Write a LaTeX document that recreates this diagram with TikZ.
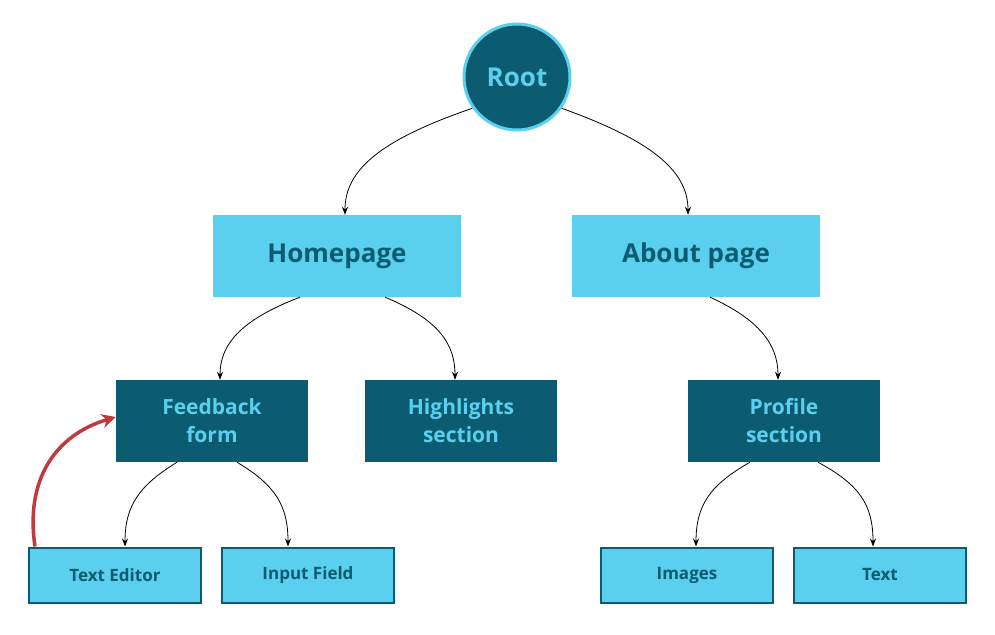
\documentclass[tikz,border=0pt]{standalone}
\usepackage{fontspec}
\setmainfont{Open Sans}
\usetikzlibrary{arrows.meta}
\definecolor{dk}{HTML}{0B5C70}
\definecolor{lt}{HTML}{5BCFEE}
\definecolor{rd}{HTML}{C0393B}
\begin{document}
\begin{tikzpicture}[x=1pt,y=-1pt,
 big/.style={fill=lt,minimum width=248pt,minimum height=82pt,text=dk,font=\fontsize{26}{30}\selectfont\bfseries},
 mid/.style={fill=dk,minimum width=192pt,minimum height=82pt,text=lt,align=center,font=\fontsize{21}{28}\selectfont\bfseries},
 small/.style={fill=lt,draw=dk,line width=2pt,minimum width=172pt,minimum height=55pt,text=dk,font=\fontsize{17}{20}\selectfont\bfseries},
 con/.style={-{Stealth[length=8pt,width=6pt]},line width=0.8pt}]
\useasboundingbox (0,0) rectangle (995,634);
\node[circle,fill=dk,draw=lt,line width=3pt,minimum size=106pt,text=lt,font=\fontsize{26}{30}\selectfont\bfseries] (root) at (517,77) {Root};
\node[big] (home) at (337,256) {Homepage};
\node[big] (about) at (696,256) {About page};
\node[mid] (fb) at (212,421) {Feedback\\form};
\node[mid] (hl) at (461,421) {Highlights\\section};
\node[mid] (pr) at (784,421) {Profile\\section};
\node[small] (te) at (115,575) {Text Editor};
\node[small] (in) at (308,575) {Input Field};
\node[small] (im) at (687,575) {Images};
\node[small] (tx) at (880,575) {Text};
\draw[con] (root.215) .. controls (380,140) and (345,170) .. ([xshift=8pt]home.north);
\draw[con] (root.325) .. controls (650,140) and (688,170) .. ([xshift=-8pt]about.north);
\draw[con] ([xshift=-37pt]home.south) .. controls (240,320) and (220,345) .. ([xshift=8pt]fb.north);
\draw[con] ([xshift=48pt]home.south) .. controls (440,320) and (455,345) .. ([xshift=-6pt]hl.north);
\draw[con] ([xshift=14pt]about.south) .. controls (760,320) and (778,345) .. ([xshift=-6pt]pr.north);
\draw[con] ([xshift=-35pt]fb.south) .. controls (140,485) and (125,505) .. ([xshift=10pt]te.north);
\draw[con] ([xshift=25pt]fb.south) .. controls (275,485) and (288,505) .. ([xshift=-20pt]in.north);
\draw[con] ([xshift=-34pt]pr.south) .. controls (710,485) and (696,505) .. ([xshift=9pt]im.north);
\draw[con] ([xshift=34pt]pr.south) .. controls (860,485) and (873,505) .. ([xshift=-7pt]tx.north);
\draw[rd,line width=3.5pt,-{Stealth[length=14pt,width=14pt]}] ([xshift=-80pt]te.north) .. controls (25,480) and (55,435) .. ([yshift=4pt]fb.west);
\end{tikzpicture}
\end{document}
